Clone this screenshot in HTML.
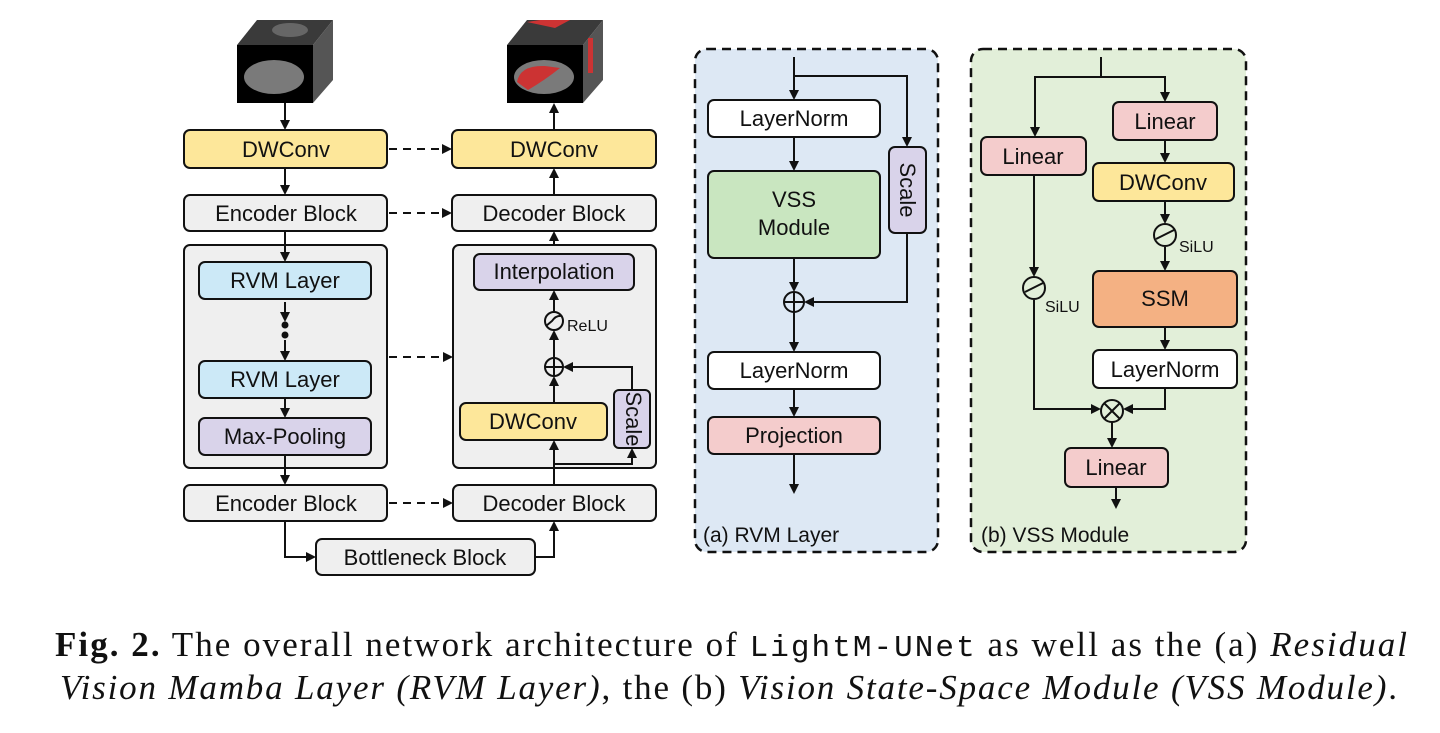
<!DOCTYPE html>
<html><head><meta charset="utf-8"><style>
html,body{margin:0;padding:0;background:#fff;}
svg{display:block;}
.b{stroke:#111;stroke-width:2;}
.t{font-family:"Liberation Sans",sans-serif;font-size:22px;fill:#111;text-anchor:middle;}
.l{stroke:#111;stroke-width:2;fill:none;}
</style></head><body>
<svg width="1440" height="733" viewBox="0 0 1440 733" xmlns="http://www.w3.org/2000/svg">
<defs>
<marker id="a" markerWidth="10" markerHeight="10" refX="8" refY="5" orient="auto" markerUnits="userSpaceOnUse"><path d="M0,0 L10,5 L0,10 z" fill="#111"/></marker>
</defs>

<!-- cubes -->
<g>
<polygon points="237,45 257,20 333,20 313,45" fill="#3a3a3a"/>
<polygon points="313,45 333,20 333,80 313,103" fill="#555"/>
<rect x="237" y="45" width="76" height="58" fill="#000"/>
<ellipse cx="274" cy="77" rx="30" ry="17" fill="#7a7a7a"/>
<ellipse cx="290" cy="30" rx="18" ry="7" fill="#666"/>
</g>
<g>
<polygon points="507,45 527,20 603,20 583,45" fill="#3a3a3a"/>
<polygon points="527,22 540,20 570,20 555,28" fill="#c33"/>
<polygon points="583,45 603,20 603,80 583,103" fill="#555"/>
<rect x="588" y="38" width="5" height="35" fill="#c33"/>
<rect x="507" y="45" width="76" height="58" fill="#000"/>
<ellipse cx="544" cy="77" rx="30" ry="17" fill="#7a7a7a"/>
<path d="M517,82 Q520,65 545,66 L560,68 Q545,80 528,90 Z" fill="#c33"/>
</g>

<!-- left column -->
<rect class="b" x="184" y="130" width="203" height="38" rx="6" fill="#fde79a"/>
<text class="t" x="286" y="157">DWConv</text>
<rect class="b" x="452" y="130" width="204" height="38" rx="6" fill="#fde79a"/>
<text class="t" x="554" y="157">DWConv</text>
<rect class="b" x="184" y="195" width="203" height="36" rx="6" fill="#efefef"/>
<text class="t" x="286" y="221">Encoder Block</text>
<rect class="b" x="452" y="195" width="204" height="36" rx="6" fill="#efefef"/>
<text class="t" x="554" y="221">Decoder Block</text>
<rect class="b" x="184" y="245" width="203" height="223" rx="6" fill="#efefef"/>
<rect class="b" x="453" y="245" width="203" height="223" rx="6" fill="#efefef"/>
<rect class="b" x="199" y="262" width="172" height="37" rx="6" fill="#cce9f7"/>
<text class="t" x="285" y="288">RVM Layer</text>
<rect class="b" x="199" y="361" width="172" height="37" rx="6" fill="#cce9f7"/>
<text class="t" x="285" y="387">RVM Layer</text>
<rect class="b" x="199" y="418" width="172" height="37" rx="6" fill="#d9d3ea"/>
<text class="t" x="285" y="444">Max-Pooling</text>
<circle cx="285" cy="325" r="3.5" fill="#111"/><circle cx="285" cy="335" r="3.5" fill="#111"/>
<rect class="b" x="184" y="485" width="203" height="36" rx="6" fill="#efefef"/>
<text class="t" x="286" y="511">Encoder Block</text>
<rect class="b" x="453" y="485" width="203" height="36" rx="6" fill="#efefef"/>
<text class="t" x="554" y="511">Decoder Block</text>
<rect class="b" x="316" y="539" width="219" height="36" rx="6" fill="#efefef"/>
<text class="t" x="425" y="565">Bottleneck Block</text>
<rect class="b" x="474" y="254" width="160" height="36" rx="6" fill="#d9d3ea"/>
<text class="t" x="554" y="279">Interpolation</text>
<rect class="b" x="460" y="403" width="147" height="37" rx="6" fill="#fde79a"/>
<text class="t" x="533" y="429">DWConv</text>
<rect class="b" x="614" y="390" width="36" height="58" rx="5" fill="#d9d3ea"/>
<text class="t" x="0" y="0" font-size="17" transform="translate(626,419) rotate(90)">Scale</text>
<circle class="l" cx="554" cy="321" r="9"/><path class="l" d="M546,326 L552,321 Q556,315 562,316" stroke-width="1.6"/>
<text x="567" y="331" font-family="Liberation Sans,sans-serif" font-size="16" fill="#111">ReLU</text>
<circle class="l" cx="554" cy="367" r="9"/><path class="l" d="M545,367 H563 M554,358 V376" stroke-width="1.6"/>

<!-- left arrows -->
<path class="l" d="M285,103 V128" marker-end="url(#a)"/>
<path class="l" d="M285,168 V193" marker-end="url(#a)"/>
<path class="l" d="M285,231 V260" marker-end="url(#a)"/>
<path class="l" d="M285,302 V320" marker-end="url(#a)"/>
<path class="l" d="M285,340 V359" marker-end="url(#a)"/>
<path class="l" d="M285,398 V416" marker-end="url(#a)"/>
<path class="l" d="M285,455 V483" marker-end="url(#a)"/>
<path class="l" d="M285,521 V557 H314" marker-end="url(#a)"/>
<path class="l" d="M535,557 H554 V523" marker-end="url(#a)"/>
<path class="l" d="M554,485 V442" marker-end="url(#a)"/>
<path class="l" d="M554,464 H632 V450" marker-end="url(#a)"/>
<path class="l" d="M554,403 V378" marker-end="url(#a)"/>
<path class="l" d="M632,390 V367 H565" marker-end="url(#a)"/>
<path class="l" d="M554,358 V332" marker-end="url(#a)"/>
<path class="l" d="M554,312 V292" marker-end="url(#a)"/>
<path class="l" d="M554,245 V233" marker-end="url(#a)"/>
<path class="l" d="M554,195 V170" marker-end="url(#a)"/>
<path class="l" d="M554,130 V105" marker-end="url(#a)"/>
<g stroke-dasharray="8,6">
<path class="l" d="M389,149 H450" marker-end="url(#a)"/>
<path class="l" d="M389,213 H450" marker-end="url(#a)"/>
<path class="l" d="M389,357 H451" marker-end="url(#a)"/>
<path class="l" d="M389,503 H451" marker-end="url(#a)"/>
</g>

<!-- RVM panel -->
<rect x="695" y="49" width="243" height="503" rx="12" fill="#dde8f4" stroke="#111" stroke-width="2.5" stroke-dasharray="9,6"/>
<rect class="b" x="708" y="100" width="172" height="37" rx="6" fill="#fff"/>
<text class="t" x="794" y="126">LayerNorm</text>
<rect class="b" x="708" y="171" width="172" height="87" rx="6" fill="#c9e6c0"/>
<text class="t" x="794" y="207">VSS</text><text class="t" x="794" y="235">Module</text>
<rect class="b" x="889" y="147" width="37" height="86" rx="6" fill="#d9d3ea"/>
<text class="t" x="0" y="0" font-size="21" transform="translate(900,190) rotate(90)">Scale</text>
<rect class="b" x="708" y="352" width="172" height="37" rx="6" fill="#fff"/>
<text class="t" x="794" y="378">LayerNorm</text>
<rect class="b" x="708" y="417" width="172" height="37" rx="6" fill="#f4cccc"/>
<text class="t" x="794" y="443">Projection</text>
<circle class="l" cx="794" cy="302" r="10"/><path class="l" d="M784,302 H804 M794,292 V312" stroke-width="1.6"/>
<path class="l" d="M794,57 V98" marker-end="url(#a)"/>
<path class="l" d="M794,76 H907 V145" marker-end="url(#a)"/>
<path class="l" d="M794,137 V169" marker-end="url(#a)"/>
<path class="l" d="M794,258 V290" marker-end="url(#a)"/>
<path class="l" d="M907,233 V302 H806" marker-end="url(#a)"/>
<path class="l" d="M794,312 V350" marker-end="url(#a)"/>
<path class="l" d="M794,389 V415" marker-end="url(#a)"/>
<path class="l" d="M794,454 V492" marker-end="url(#a)"/>
<text x="703" y="542" font-family="Liberation Sans,sans-serif" font-size="21" fill="#111">(a) RVM Layer</text>

<!-- VSS panel -->
<rect x="971" y="49" width="275" height="503" rx="12" fill="#e2efd9" stroke="#111" stroke-width="2.5" stroke-dasharray="9,6"/>
<rect class="b" x="1113" y="102" width="104" height="38" rx="6" fill="#f4cccc"/>
<text class="t" x="1165" y="129">Linear</text>
<rect class="b" x="981" y="137" width="105" height="38" rx="6" fill="#f4cccc"/>
<text class="t" x="1033" y="164">Linear</text>
<rect class="b" x="1093" y="163" width="141" height="38" rx="6" fill="#fde79a"/>
<text class="t" x="1163" y="190">DWConv</text>
<rect class="b" x="1093" y="271" width="144" height="56" rx="6" fill="#f4b183"/>
<text class="t" x="1165" y="306">SSM</text>
<rect class="b" x="1093" y="350" width="144" height="38" rx="6" fill="#fff"/>
<text class="t" x="1165" y="377">LayerNorm</text>
<rect class="b" x="1065" y="448" width="103" height="39" rx="6" fill="#f4cccc"/>
<text class="t" x="1116" y="475">Linear</text>
<circle class="l" cx="1165" cy="235" r="11"/><path class="l" d="M1156,239 L1174,230" stroke-width="1.6"/>
<text x="1179" y="252" font-family="Liberation Sans,sans-serif" font-size="16" fill="#111">SiLU</text>
<circle class="l" cx="1034" cy="288" r="11"/><path class="l" d="M1025,292 L1043,283" stroke-width="1.6"/>
<text x="1045" y="312" font-family="Liberation Sans,sans-serif" font-size="16" fill="#111">SiLU</text>
<circle class="l" cx="1112" cy="411" r="11"/><path class="l" d="M1104,403 L1120,419 M1120,403 L1104,419" stroke-width="1.6"/>
<path class="l" d="M1101,57 V77"/>
<path class="l" d="M1101,77 H1035 V135" marker-end="url(#a)"/>
<path class="l" d="M1101,77 H1165 V100" marker-end="url(#a)"/>
<path class="l" d="M1165,140 V161" marker-end="url(#a)"/>
<path class="l" d="M1165,201 V222" marker-end="url(#a)"/>
<path class="l" d="M1165,247 V269" marker-end="url(#a)"/>
<path class="l" d="M1165,327 V348" marker-end="url(#a)"/>
<path class="l" d="M1034,175 V275" marker-end="url(#a)"/>
<path class="l" d="M1034,300 V409 H1099" marker-end="url(#a)"/>
<path class="l" d="M1165,388 V409 H1125" marker-end="url(#a)"/>
<path class="l" d="M1112,422 V446" marker-end="url(#a)"/>
<path class="l" d="M1116,487 V507" marker-end="url(#a)"/>
<text x="981" y="542" font-family="Liberation Sans,sans-serif" font-size="21" fill="#111">(b) VSS Module</text>

<!-- caption -->
<text x="55" y="656" font-family="Liberation Serif,serif" font-size="35" fill="#111" textLength="1352" lengthAdjust="spacing"><tspan font-weight="bold">Fig. 2.</tspan> The overall network architecture of <tspan font-family="Liberation Mono,monospace" font-size="31">LightM-UNet</tspan> as well as the (a) <tspan font-style="italic">Residual</tspan></text>
<text x="60" y="699" font-family="Liberation Serif,serif" font-size="35" fill="#111" textLength="1337" lengthAdjust="spacing"><tspan font-style="italic">Vision Mamba Layer (RVM Layer)</tspan>, the (b) <tspan font-style="italic">Vision State-Space Module (VSS Module)</tspan>.</text>
</svg>
</body></html>
